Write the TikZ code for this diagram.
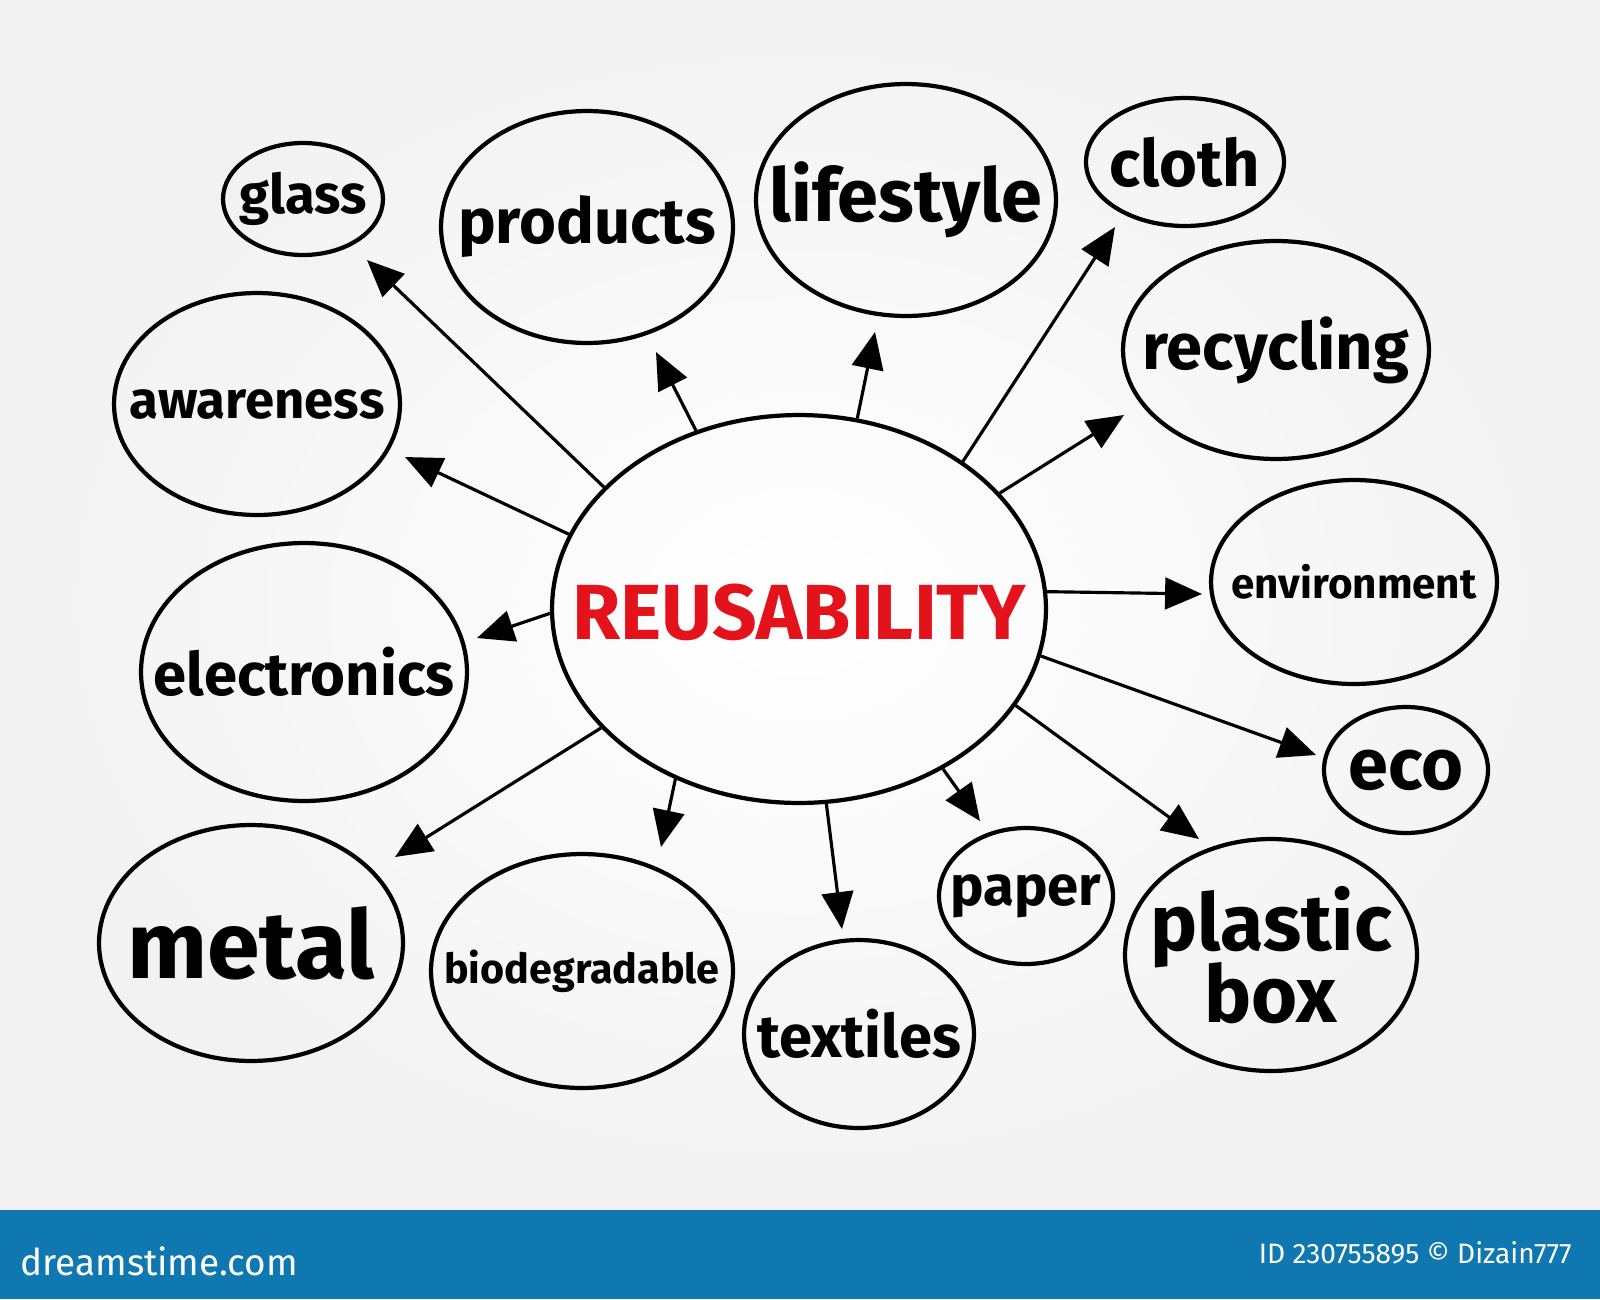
\documentclass[tikz,border=0pt]{standalone}
\usepackage{fontspec}
\setmainfont{Fira Sans}
\usetikzlibrary{shapes.geometric,arrows.meta}
\definecolor{barblue}{HTML}{1078B0}
\definecolor{redtxt}{HTML}{E3121B}
\newcommand\fsz[1]{\fontsize{#1}{#1}\selectfont}
\tikzset{
  bub/.style={ellipse, draw=black, line width=2.4pt, inner sep=0pt},
  lab/.style={font=\bfseries, text=black, inner sep=0pt},
  conn/.style={line width=1.8pt, -{Triangle[length=21pt,width=18pt]}},
}
\begin{document}
\begin{tikzpicture}[x=0.02cm,y=-0.02cm]
\shade[inner color=white, outer color=black!5] (0,0) rectangle (1600,1210);
\fill[barblue] (0,1210) rectangle (1600,1299);
\path[use as bounding box] (0,0) rectangle (1600,1299);

% central
\node[bub, minimum width=9.88cm, minimum height=7.76cm] (c) at (799,609) {};
\node[lab, text=redtxt] at (799,612) {\fsz{44.5}REUSABILITY};

% bubbles
\node[bub, minimum width=3.2cm, minimum height=2.24cm] (glass) at (303,199) {};
\node[lab] at (glass) {\fsz{31}glass};
\node[bub, minimum width=5.84cm, minimum height=4.64cm] (products) at (587,227) {};
\node[lab] at (products) {\fsz{36}products};
\node[bub, minimum width=6.0cm, minimum height=4.64cm] (lifestyle) at (906,200) {};
\node[lab] at (lifestyle) {\fsz{42}lifestyle};
\node[bub, minimum width=3.96cm, minimum height=2.56cm] (cloth) at (1185,162) {};
\node[lab] at (cloth) {\fsz{37}cloth};
\node[bub, minimum width=6.12cm, minimum height=4.36cm] (recycling) at (1276,350) {};
\node[lab] at (recycling) {\fsz{37}recycling};
\node[bub, minimum width=5.72cm, minimum height=4.44cm] (awareness) at (257,404) {};
\node[lab] at (awareness) {\fsz{30}awareness};
\node[bub, minimum width=5.72cm, minimum height=4.08cm] (environment) at (1354,582) {};
\node[lab] at (environment) {\fsz{24}environment};
\node[bub, minimum width=6.52cm, minimum height=5.16cm] (electronics) at (304,672) {};
\node[lab] at (electronics) {\fsz{34}electronics};
\node[bub, minimum width=3.28cm, minimum height=2.52cm] (eco) at (1406,770) {};
\node[lab] at (eco) {\fsz{41}eco};
\node[bub, minimum width=6.08cm, minimum height=4.72cm] (metal) at (251,943) {};
\node[lab] at (metal) {\fsz{54}metal};
\node[bub, minimum width=6.04cm, minimum height=4.68cm] (biodegradable) at (582,971) {};
\node[lab] at (biodegradable) {\fsz{23.5}biodegradable};
\node[bub, minimum width=4.6cm, minimum height=3.76cm] (textiles) at (859,1034) {};
\node[lab] at (textiles) {\fsz{34}textiles};
\node[bub, minimum width=3.48cm, minimum height=2.72cm] (paper) at (1026,896) {};
\node[lab] at (paper) {\fsz{32}paper};
\node[bub, minimum width=5.84cm, minimum height=4.64cm] (plastic) at (1271,955) {};
\node[lab, align=center] at (plastic) {\fsz{45}plastic\\[-4pt]\fsz{45}box};

% tips
\coordinate (tglass) at (367,260);
\coordinate (tproducts) at (656,352);
\coordinate (tlifestyle) at (875,332);
\coordinate (tcloth) at (1115,227);
\coordinate (trecycling) at (1124,415);
\coordinate (tawareness) at (405,457);
\coordinate (tenvironment) at (1202,594);
\coordinate (telectronics) at (477,638);
\coordinate (teco) at (1316,755);
\coordinate (tplastic) at (1199,839);
\coordinate (tpaper) at (980,821);
\coordinate (ttextiles) at (842,929);
\coordinate (tbiodeg) at (661,847);
\coordinate (tmetal) at (395,857);

\draw[conn] (c.148.5) -- (tglass);
\draw[conn] (c.120.6) -- (tproducts);
\draw[conn] (c.73.7) -- (tlifestyle);
\draw[conn] (c.42.9) -- (tcloth);
\draw[conn] (c.30.8) -- (trecycling);
\draw[conn] (c.162.7) -- (tawareness);
\draw[conn] (c.4.3) -- (tenvironment);
\draw[conn] (c.181.8) -- (telectronics);
\draw[conn] (c.-11.5) -- (teco);
\draw[conn] (c.-24.4) -- (tplastic);
\draw[conn] (c.-48.1) -- (tpaper);
\draw[conn] (c.-82.7) -- (ttextiles);
\draw[conn] (c.-126.7) -- (tbiodeg);
\draw[conn] (c.-149.2) -- (tmetal);

% footer
\node[anchor=west, text=white, inner sep=0pt] (brand) at (20,1261) {\fsz{21}dreamstime.com};
\node[anchor=east, text=white, inner sep=0pt] (credit) at (1572,1253) {\fsz{16}ID 230755895 © Dizain777};
\end{tikzpicture}
\end{document}
